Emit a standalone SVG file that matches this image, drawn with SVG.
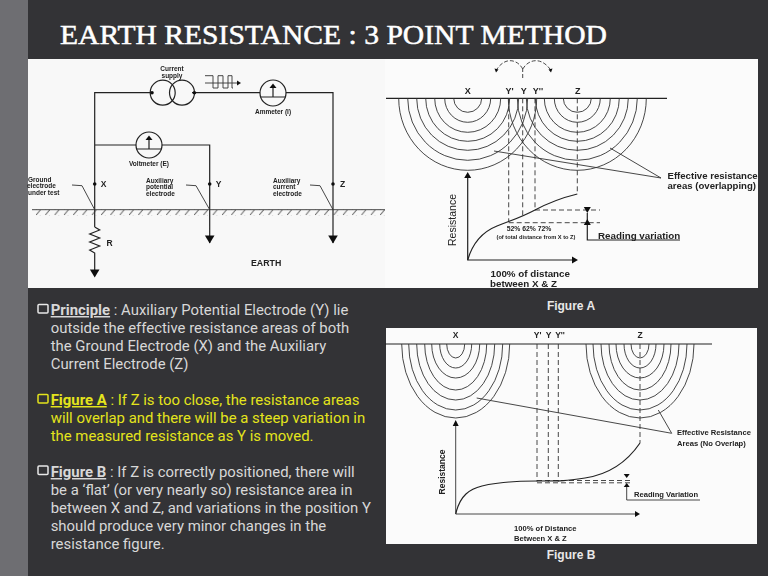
<svg xmlns="http://www.w3.org/2000/svg" width="768" height="576" viewBox="0 0 768 576">
<style>
.ln{fill:none;stroke:#222;stroke-width:1.2}
.th{fill:none;stroke:#333;stroke-width:.9}
.da{fill:none;stroke:#333;stroke-width:.9;stroke-dasharray:5 3}
.ah{fill:#111;stroke:none}
.dot{fill:#111}
.s{font-family:"Liberation Sans",Arial,sans-serif;font-weight:bold;fill:#222}
.b{font-family:Roboto,"Liberation Sans",sans-serif;font-size:14.9px;fill:#d8d8d8}
.y{fill:#e4e41c}
.u{font-weight:bold;text-decoration:underline}
.box{fill:none;stroke:#e8e8e8;stroke-width:1.5}
.cap{font-family:"Liberation Sans",Arial,sans-serif;font-weight:bold;font-size:12px;fill:#e8e8e8;text-anchor:middle}
</style>
<defs>
<pattern id="hatch" x="36" y="209.7" width="9.3" height="5.5" patternUnits="userSpaceOnUse"><path d="M0 5.5L4.5 0" stroke="#333" stroke-width=".9" fill="none"/></pattern>
<filter id="soft" x="0" y="0" width="100%" height="100%"><feGaussianBlur stdDeviation=".35"/></filter>
<filter id="soft2" x="0" y="0" width="100%" height="100%"><feGaussianBlur stdDeviation=".45"/></filter>
</defs>
<rect width="768" height="576" fill="#333336"/>
<rect width="28" height="576" fill="#6e6e72"/>
<text id="title" x="60" y="44" font-family="Liberation Serif,serif" font-size="27.5px" fill="#fff" stroke="#fff" stroke-width=".5" textLength="547" lengthAdjust="spacingAndGlyphs">EARTH RESISTANCE : 3 POINT METHOD</text>

<g id="circuit" filter="url(#soft)">
<rect x="28" y="59" width="357" height="229" fill="#f8f8f8"/>
<g id="circuit-connectors">
<path class="ln" d="M152 92.7H94.7V227M192 92.7H260M286 92.7H333V243M94.7 145H136M162 145H209.7V243M94.7 227l5 3-10 4 10 4-10 4 10 4-10 4 5 3V272"/>
<path class="th" d="M32 209.7H385"/>
<rect x="32" y="209.7" width="353" height="5.5" fill="url(#hatch)"/>
<path class="th" d="M72 185l10 .7 12.7 24M186 185l10 .7 13.7 24M310 185l10 .7 13 24"/>
</g>
<g id="supply"><circle class="ln" cx="162.7" cy="92.7" r="12.5"/><circle class="ln" cx="182" cy="92.7" r="12.5"/><circle class="dot" cx="152" cy="92.7" r="1.8"/><circle class="dot" cx="194.4" cy="92.7" r="1.8"/>
<text class="s" x="172" y="71" font-size="6.5" text-anchor="middle">Current</text><text class="s" x="172" y="77.5" font-size="6.5" text-anchor="middle">supply</text>
<path class="th" d="M205 75.700H213V88H218V75.700H223V88H228V75.700H232V88H233M205 83H238"/><path class="ah" d="M241 83l-4-2.500v5z"/></g>
<g id="ammeter"><circle class="ln" cx="273" cy="93" r="13"/><path class="ln" d="M260.500 97H285.500M273 97V87"/><path class="ah" d="M273 83.500l-3.500 4.500h7z"/><text class="s" x="273" y="114" font-size="6.500" text-anchor="middle">Ammeter (I)</text></g>
<g id="voltmeter"><circle class="ln" cx="149" cy="145" r="13"/><path class="ln" d="M136.500 149H161.500M149 149V139"/><path class="ah" d="M149 135.500l-3.500 4.500h7z"/><text class="s" x="149" y="166" font-size="6.500" text-anchor="middle">Voltmeter (E)</text></g>
<g id="electrode-x"><circle class="dot" cx="94.700" cy="184" r="1.800"/><text class="s" x="100.700" y="187" font-size="8.500">X</text>
<text class="s" font-size="6.500"><tspan x="28" y="182">Ground</tspan><tspan x="27" y="188.300">electrode</tspan><tspan x="28" y="194.500">under test</tspan></text>
<text class="s" x="106.500" y="246" font-size="8.500">R</text><path class="ah" d="M94.700 277.500l-4.800-8h9.600z"/></g>
<g id="electrode-y"><circle class="dot" cx="209.700" cy="184" r="1.800"/><text class="s" x="215.700" y="187" font-size="8.500">Y</text>
<text class="s" font-size="6.500"><tspan x="146" y="183">Auxiliary</tspan><tspan x="146" y="189.200">potential</tspan><tspan x="146" y="195.500">electrode</tspan></text>
<path class="ah" d="M209.700 243.500l-4.800-8h9.600z"/></g>
<g id="electrode-z"><circle class="dot" cx="333" cy="184" r="1.800"/><text class="s" x="340" y="187" font-size="8.500">Z</text>
<text class="s" font-size="6.500"><tspan x="273" y="183">Auxiliary</tspan><tspan x="273" y="189.200">current</tspan><tspan x="273" y="195.500">electrode</tspan></text>
<path class="ah" d="M333 243.500l-4.800-8h9.600z"/></g>
<text id="earth" class="s" x="251" y="266" font-size="8.800">EARTH</text>
</g>

<g id="figure-a" filter="url(#soft)">
<rect x="385" y="59" width="373" height="229" fill="#fbfbfb"/>
<g id="figa-connectors">
<path class="ln" d="M386 98.300H667"/>
<path class="th" d="M398.700 98.300a69 72 0 0 0 138 0M407.700 98.300a60 62 0 0 0 120 0M416.700 98.300a51 52 0 0 0 102 0M425.700 98.300a42 43 0 0 0 84 0M434.700 98.300a33 34 0 0 0 66 0M444.700 98.300a23 24 0 0 0 46 0M453.700 98.300a14 14 0 0 0 28 0"/>
<path class="th" d="M508.300 98.300a69 72 0 0 0 138 0M517.300 98.300a60 62 0 0 0 120 0M526.300 98.300a51 52 0 0 0 102 0M535.300 98.300a42 43 0 0 0 84 0M544.300 98.300a33 34 0 0 0 66 0M554.300 98.300a23 24 0 0 0 46 0M563.300 98.300a14 14 0 0 0 28 0"/>
<path class="da" d="M508.700 98.300V222M522.700 98.300V217M535 98.300V210M577.300 98.300V193M535 210H600M508.700 222.700H600"/>
<path class="ln" d="M467.700 260C472 245 482 232 497 226S520 218 535 210S565 197 577.300 194"/>
<path class="ln" d="M467.700 178V260H574M587.300 213V240H680"/>
<path class="ah" d="M467.700 172l-3.500 6h7zM578 260l-6-3.500v7zM587.300 213l-3.500-6h7zM587.300 219l-3.500 6h7z"/>
<path class="th" d="M494 151L661 178L610 148"/>
<path class="th" d="M522.700 78V69M522.700 69C518 60 506 56 497 69M522.700 69C528 60 540 56 550 69" stroke-dasharray="4 2"/>
<path class="ah" d="M496 72.500l-1.500-4 4 1zM551 72.500l1.500-4-4 1z"/>
</g>
<g id="figa-labels" font-size="9">
<text class="s" x="467.700" y="94" text-anchor="middle" font-size="9">X</text>
<text class="s" x="509.500" y="94" text-anchor="middle" font-size="9">Y'</text>
<text class="s" x="523.700" y="94" text-anchor="middle" font-size="9">Y</text>
<text class="s" x="538" y="94" text-anchor="middle" font-size="9">Y''</text>
<text class="s" x="577.700" y="94" text-anchor="middle" font-size="9">Z</text>
<text class="s" x="667.500" y="179" font-size="9.600">Effective resistance</text>
<text class="s" x="667.500" y="189" font-size="9.600">areas (overlapping)</text>
<text class="s" x="598" y="239" font-size="9.800">Reading variation</text>
<text class="s" transform="translate(456 220) rotate(-90)" text-anchor="middle" font-size="10.500" style="font-weight:normal">Resistance</text>
<text class="s" x="529" y="231" font-size="6.800" text-anchor="middle">52% 62% 72%</text>
<text class="s" x="536" y="239" font-size="5.700" text-anchor="middle">(of total distance from X to Z)</text>
<text class="s" x="490.500" y="277" font-size="9.800">100% of distance</text>
<text class="s" x="490" y="287" font-size="9.800">between X &amp; Z</text>
</g>
</g>

<g id="figure-b" filter="url(#soft2)">
<rect x="386" y="328" width="371" height="216" fill="#fbfbfb"/>
<g id="figb-connectors">
<path class="ln" d="M385 344H712"/>
<path class="th" d="M401.700 344a54 74 0 0 0 108 0M408.700 344a47 66 0 0 0 94 0M416.700 344a39 56 0 0 0 78 0M424.700 344a31 46 0 0 0 62 0M431.700 344a24 34 0 0 0 48 0M439.700 344a16 24 0 0 0 32 0M446.700 344a9 14 0 0 0 18 0"/>
<path class="th" d="M586 344a54 74 0 0 0 108 0M593 344a47 66 0 0 0 94 0M601 344a39 56 0 0 0 78 0M609 344a31 46 0 0 0 62 0M616 344a24 34 0 0 0 48 0M624 344a16 24 0 0 0 32 0M631 344a9 14 0 0 0 18 0"/>
<path class="da" d="M537 344V481.700M548.300 344V481.700M558.300 344V481.700M640 344V443M537 480.500H631M537 482.800H631"/>
<path class="ln" d="M455.700 514C460 495 470 489 482 486S510 481 537 481 565 481 585 478 625 465 640 443"/>
<path class="th" d="M455.700 425V514H637M626.700 484V500H700M476.700 398L671.700 433.300L658.300 410"/>
<path class="ah" d="M455.700 420l-3 6h6zM640 514l-5-3v6zM626.700 478l-3-4h6zM626.700 483l-3 4h6z"/>
</g>
<g id="figb-labels">
<text class="s" x="455.700" y="338" font-size="8.500" text-anchor="middle">X</text>
<text class="s" x="537.700" y="338" font-size="8.500" text-anchor="middle">Y'</text>
<text class="s" x="548.700" y="338" font-size="8.500" text-anchor="middle">Y</text>
<text class="s" x="560" y="338" font-size="8.500" text-anchor="middle">Y''</text>
<text class="s" x="640" y="338" font-size="8.500" text-anchor="middle">Z</text>
<text class="s" x="677" y="435" font-size="7.600">Effective Resistance</text>
<text class="s" x="677" y="445.700" font-size="7.600">Areas (No Overlap)</text>
<text class="s" x="634" y="497" font-size="7.600">Reading Variation</text>
<text class="s" transform="translate(445 472) rotate(-90)" text-anchor="middle" font-size="8.500">Resistance</text>
<text class="s" x="514" y="531" font-size="7.600">100% of Distance</text>
<text class="s" x="514" y="541" font-size="7.600">Between X &amp; Z</text>
</g>
</g>
<text id="caption-a" class="cap" x="571" y="310">Figure A</text>
<text id="caption-b" class="cap" x="571" y="559">Figure B</text>

<g id="principle">
<rect class="box" x="38" y="304.500" width="10" height="8.500" rx="1"/>
<text class="b"><tspan x="50.700" y="315"><tspan class="u">Principle</tspan> : Auxiliary Potential Electrode (Y) lie</tspan><tspan x="50.700" y="333">outside the effective resistance areas of both</tspan><tspan x="50.700" y="351">the Ground Electrode (X) and the Auxiliary</tspan><tspan x="50.700" y="369">Current Electrode (Z)</tspan></text>
</g>
<g id="figure-a-text">
<rect class="box" x="38" y="394.500" width="10" height="8.500" rx="1" style="stroke:#e4e41c"/>
<text class="b y"><tspan x="50.700" y="405"><tspan class="u">Figure A</tspan> : If Z is too close, the resistance areas</tspan><tspan x="50.700" y="423">will overlap and there will be a steep variation in</tspan><tspan x="50.700" y="441">the measured resistance as Y is moved.</tspan></text>
</g>
<g id="figure-b-text">
<rect class="box" x="38" y="466" width="10" height="8.500" rx="1"/>
<text class="b"><tspan x="50.700" y="477"><tspan class="u">Figure B</tspan> : If Z is correctly positioned, there will</tspan><tspan x="50.700" y="495">be a ‘flat’ (or very nearly so) resistance area in</tspan><tspan x="50.700" y="513">between X and Z, and variations in the position Y</tspan><tspan x="50.700" y="531">should produce very minor changes in the</tspan><tspan x="50.700" y="549">resistance figure.</tspan></text>
</g>
</svg>
